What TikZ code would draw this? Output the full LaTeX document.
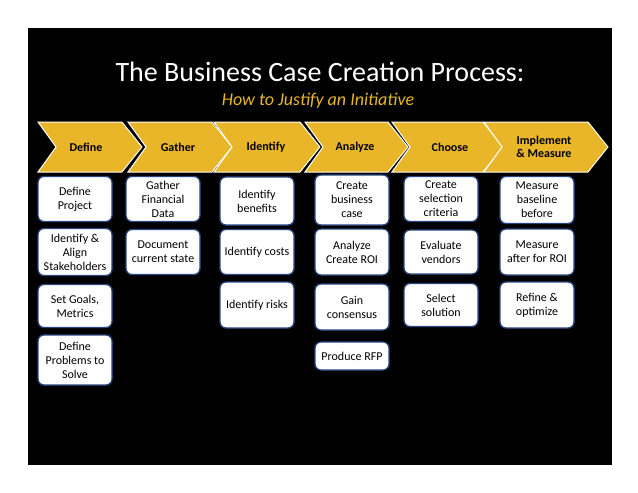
\documentclass[tikz,border=0pt]{standalone}
\usepackage{fontspec}
\setmainfont{Carlito}
\definecolor{gold}{RGB}{232,182,40}
\definecolor{bord}{RGB}{40,70,130}
\begin{document}
\begin{tikzpicture}[x=1pt,y=-1pt,
 box/.style={draw=bord,line width=1.3pt,fill=white,rounded corners=6pt,minimum width=74pt,align=center,font=\fontsize{12}{14}\selectfont,inner sep=1pt},
 chev/.style={fill=gold,draw=white,line width=1pt},
 clab/.style={font=\fontsize{12}{13.5}\selectfont\bfseries,align=center}]
\useasboundingbox (0,0) rectangle (638,493);
\fill[black] (28,28) rectangle (612,465);
\node[white,font=\fontsize{28}{30}\selectfont] (t) at (320,72) {The Business Case Creation Process:};
\node[gold,font=\fontsize{18}{20}\selectfont\itshape] (s) at (318,101) {How to Justify an Initiative};
\foreach \a/\b/\n/\lab/\cx in {38/122/c1/Define/86,128/212/c2/Gather/178,214/300/c3/Identify/266,305/388/c4/Analyze/355,392/483/c5/Choose/450,484/588/c6/{Implement\\\& Measure}/544}{
 \draw[chev] (\a,122) -- (\b,122) -- (\b+20,147) -- (\b,172) -- (\a,172) -- (\a+18,147) -- cycle;
 \node[clab] (\n) at (\cx,147) {\lab};
}
\node[box,minimum height=45pt] (d1) at (75,199) {Define\\Project};
\node[box,minimum height=47pt] (d2) at (75,252) {Identify \&\\Align\\Stakeholders};
\node[box,minimum height=43pt] (d3) at (75,306) {Set Goals,\\Metrics};
\node[box,minimum height=50pt] (d4) at (75,360) {Define\\Problems to\\Solve};
\node[box,minimum height=45pt] (g1) at (163,199) {Gather\\Financial\\Data};
\node[box,minimum height=45pt] (g2) at (163,252) {Document\\current state};
\node[box,minimum height=48pt] (i1) at (257,201) {Identify\\benefits};
\node[box,minimum height=45pt] (i2) at (257,252) {Identify costs};
\node[box,minimum height=46pt] (i3) at (257,305) {Identify risks};
\node[box,minimum height=50pt] (a1) at (352,200) {Create\\business\\case};
\node[box,minimum height=46pt] (a2) at (352,252) {Analyze\\Create ROI};
\node[box,minimum height=46pt] (a3) at (352,307) {Gain\\consensus};
\node[box,minimum height=28pt] (a4) at (352,356) {Produce RFP};
\node[box,minimum height=45pt] (h1) at (441,199) {Create\\selection\\criteria};
\node[box,minimum height=44pt] (h2) at (441,252) {Evaluate\\vendors};
\node[box,minimum height=43pt] (h3) at (441,305) {Select\\solution};
\node[box,minimum height=47pt] (m1) at (537,200) {Measure\\baseline\\before};
\node[box,minimum height=46pt] (m2) at (537,252) {Measure\\after for ROI};
\node[box,minimum height=46pt] (m3) at (537,305) {Refine \&\\optimize};
\end{tikzpicture}
\end{document}
